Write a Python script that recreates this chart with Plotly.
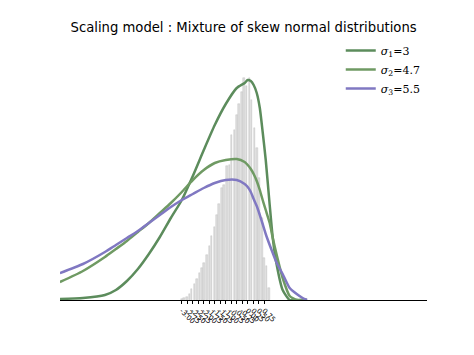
import plotly.graph_objects as go

# Histogram (bin centres, counts)
bin_centers = [-3.00, -2.89, -2.77, -2.66, -2.55, -2.43, -2.32, -2.20, -2.09, -1.98,
               -1.86, -1.75, -1.64, -1.52, -1.41, -1.30, -1.18, -1.07, -0.95, -0.84,
               -0.73, -0.61, -0.50, -0.39, -0.27, -0.16, -0.05, 0.07, 0.18, 0.30,
               0.41, 0.52, 0.64, 0.75, 0.86, 0.98]
bin_counts = [1, 2, 3, 6, 11, 16, 21, 27, 32, 37,
              45, 54, 64, 73, 85, 96, 112, 115, 134, 135,
              165, 170, 185, 196, 208, 222, 214, 222, 200, 172,
              152, 122, 82, 42, 34, 12]

# Fitted mixture curves
curve_x = [-8.55, -7.5, -6.5, -6.0, -5.5, -5.0, -4.5, -4.0, -3.5, -3.0, -2.5, -2.0,
           -1.5, -1.0, -0.5, -0.14, 0.0, 0.14, 0.27, 0.41, 0.55, 0.68, 0.82, 1.0,
           1.14, 1.32, 1.59, 1.91, 2.23, 2.5, 2.7]
sigma1_y = [1, 2, 5, 10, 19, 31, 46, 63, 82, 100, 124, 150,
            175, 196, 212, 217, 220, 219, 215, 207, 192, 168, 140, 95,
            62, 35, 10, 0, 0, 0, 0]
sigma2_y = [18, 29, 43, 51, 59, 68, 77, 87, 97, 108, 120, 130,
            137, 140, 141, 138, 135, 131, 126, 119, 110, 100, 90, 77,
            62, 45, 22, 4, 0, 0, 0]
sigma3_y = [27, 36, 48, 55, 62, 69, 77, 85, 93, 100, 106, 112,
            117, 120, 120, 116, 113, 108, 101, 94, 85, 76, 66, 55,
            47, 37, 26, 12, 6, 2, 0]

series_names = ["<i>σ</i><sub>1</sub>=3", "<i>σ</i><sub>2</sub>=4.7", "<i>σ</i><sub>3</sub>=5.5"]
series_colors = ["#5c8c5c", "#6f9a63", "#8078c2"]

tick_vals = [-3.0, -2.75, -2.5, -2.25, -2.0, -1.75, -1.5, -1.25, -1.0, -0.75,
             -0.5, -0.25, 0.0, 0.25, 0.5, 0.75]
tick_text = ["-3.00", "-2.75", "-2.50", "-2.25", "-2.00", "-1.75", "-1.50", "-1.25",
             "-1.00", "-0.75", "-0.50", "-0.25", "0.00", "0.25", "0.50", "0.75"]

fig = go.Figure()
fig.add_trace(go.Bar(x=bin_centers, y=bin_counts, width=0.07,
                     marker=dict(color="#dddddd", line=dict(color="#c4c4c4", width=0.5)),
                     showlegend=False))
for ys, name, col in zip([sigma1_y, sigma2_y, sigma3_y], series_names, series_colors):
    fig.add_trace(go.Scatter(x=curve_x, y=ys, mode="lines", name=name,
                             line=dict(color=col, width=2.5, shape="spline", smoothing=0.6)))

fig.update_layout(
    width=474, height=355,
    margin=dict(l=52, r=55, t=32, b=63),
    paper_bgcolor="white", plot_bgcolor="white",
    title=dict(text="Scaling model : Mixture of skew normal distributions",
               x=0.497, xanchor="center", y=0.945, yanchor="middle",
               font=dict(family="DejaVu Sans", size=13.2, color="black")),
    legend=dict(x=0.765, y=1.015, xanchor="left", yanchor="top",
                bgcolor="rgba(0,0,0,0)", font=dict(family="DejaVu Serif", size=11, color="black"),
                tracegroupgap=0, itemwidth=30),
    showlegend=True,
    bargap=0,
)
fig.update_xaxes(range=[-8.545, 8.16], showgrid=False, zeroline=False,
                 showline=True, linecolor="black", linewidth=1,
                 ticks="outside", ticklen=3, tickcolor="black",
                 tickvals=tick_vals, ticktext=tick_text, tickangle=45,
                 tickfont=dict(family="DejaVu Sans", size=7, color="black"))
fig.update_yaxes(range=[0, 260], visible=False, showgrid=False, zeroline=False)

fig.write_html("out.html")
